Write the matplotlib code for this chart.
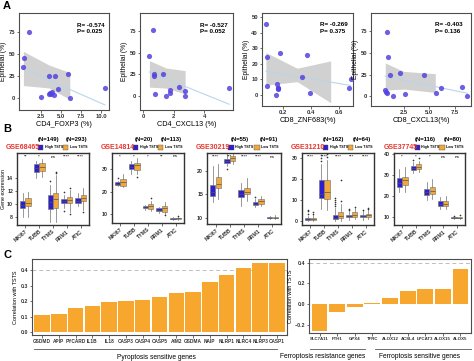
import numpy as np
import matplotlib
matplotlib.use("Agg")
import matplotlib.pyplot as plt
from matplotlib.patches import Rectangle
from matplotlib.transforms import blended_transform_factory

plt.rcParams["font.family"] = ["Liberation Sans", "DejaVu Sans"]
plt.rcParams["font.weight"] = "bold"
plt.rcParams["axes.linewidth"] = 0.8

# ---------------- data: panel A (epithelial % vs immune subset %) ----------------
foxp3_x = [1.0, 0.33, 0.29, 3.54, 4.25, 5.92, 4.63, 3.63, 3.54, 3.83, 3.71, 4.17, 2.46, 6.17, 10.5]
foxp3_y = [74.6, 44.9, 34.2, 25.1, 24.0, 26.3, 9.5, 5.7, 4.2, 6.5, 4.2, 2.7, 0.4, 0.0, 11.4]

cd4_cxcl13_x = [0.4, 0.66, 0.68, 0.73, 0.79, 1.32, 1.49, 1.78, 1.78, 2.35, 2.75, 2.75, 5.65]
cd4_cxcl13_y = [46.4, 76.0, 25.9, 23.2, 1.9, 25.9, 0.0, 7.0, 3.9, 10.8, 5.4, 0.0, 8.9]

znf683_x = [0.076, 0.083, 0.081, 0.179, 0.155, 0.16, 0.16, 0.164, 0.148, 0.369, 0.333, 0.395, 0.674, 0.683]
znf683_y = [45.3, 24.2, 6.0, 26.8, 7.3, 4.3, 3.6, 4.7, 0.0, 25.8, 11.8, 1.3, 4.3, 10.1]

cd8_cxcl13_x = [0.86, 0.92, 0.70, 0.76, 0.82, 1.18, 2.14, 1.5, 2.63, 4.54, 5.63, 6.18, 8.26, 8.75]
cd8_cxcl13_y = [74.6, 45.4, 7.3, 5.4, 4.2, 24.2, 26.5, 0.0, 2.7, 25.0, 3.8, 9.6, 10.8, 0.8]

a_xlabels = ["CD4_FOXP3 (%)", "CD4_CXCL13 (%)", "CD8_ZNF683(%)", "CD8_CXCL13(%)"]
a_r = ["-0.574", "-0.527", "-0.269", "-0.403"]
a_p = ["0.025", "0.052", "0.375", "0.136"]

# confidence band of the fit as drawn (x, lower, upper) at start / middle / end
foxp3_band = ([0.3, 3.5, 6.1], [13.7, 11.0, -1.9], [52.5, 37.0, 28.5])
cd4_cxcl13_band = ([0.4, 1.5, 2.75], [10.4, 9.3, 2.7], [41.0, 32.5, 29.5])
znf683_band = ([0.076, 0.3, 0.54], [6.4, 8.6, -4.9], [27.3, 17.2, 21.9])
cd8_cxcl13_band = ([0.7, 2.5, 5.6], [7.3, 8.5, 4.6], [38.5, 28.8, 26.2])

# ---------------- data: panel B (box stats: whislo, q1, median, q3, whishi) ----------------
b_genes = ["MKI67", "TUBB", "TYMS", "RRM1", "ATIC"]
b_sets = ["GSE68465", "GSE14814", "GSE30219", "GSE31210", "GSE37745"]
b_n_high = [149, 20, 55, 162, 116]
b_n_low = [293, 113, 91, 64, 80]

gse68465_high = [[7.9, 9.3, 9.85, 10.5, 11.7], [14.0, 14.9, 15.5, 16.2, 16.7], [7.1, 9.2, 10.3, 11.3, 13.0],
                 [9.3, 10.1, 10.4, 10.8, 11.4], [9.6, 10.1, 10.5, 10.9, 11.7]]
gse68465_low = [[8.0, 9.6, 10.2, 10.9, 11.9], [14.1, 15.1, 15.8, 16.3, 17.0], [7.2, 9.3, 10.7, 11.7, 14.5],
                [8.8, 10.1, 10.6, 11.1, 12.2], [9.1, 10.4, 10.9, 11.3, 12.4]]
gse68465_sig = ["**", "*", "ns", "****", "****"]

gse14814_high = [[22.5, 23.0, 23.6, 24.2, 25.0], [28.0, 30.0, 31.0, 32.6, 33.5], [12.0, 12.6, 13.0, 13.6, 14.0],
                 [10.5, 11.4, 12.0, 12.6, 13.2], [7.3, 7.6, 7.9, 8.2, 8.5]]
gse14814_low = [[22.0, 22.7, 24.3, 25.8, 28.0], [27.8, 29.5, 32.0, 33.0, 35.0], [11.5, 12.1, 13.4, 14.4, 16.0],
                [10.0, 10.9, 12.5, 13.6, 15.5], [7.5, 7.8, 8.1, 8.4, 8.8]]
gse14814_sig = ["*", "*", "*", "**", "ns"]

gse30219_high = [[13.3, 14.6, 15.5, 17.1, 21.0], [21.0, 21.6, 22.0, 22.5, 23.5], [12.5, 14.5, 15.0, 15.9, 17.5],
                 [12.3, 12.7, 13.0, 13.3, 14.0], [9.7, 9.9, 10.0, 10.2, 10.4]]
gse30219_low = [[14.0, 16.3, 17.3, 18.6, 21.5], [21.5, 22.2, 22.7, 23.2, 24.5], [13.5, 15.0, 15.6, 16.4, 18.5],
                [12.5, 12.9, 13.5, 14.0, 14.7], [9.7, 9.9, 10.0, 10.2, 10.6]]
gse30219_sig = ["****", "***", "****", "****", "ns"]

gse31210_high = [[0.0, 0.3, 0.7, 1.2, 2.5], [5.5, 11.0, 13.0, 19.4, 27.0], [0.0, 1.0, 1.5, 3.0, 6.0],
                 [0.5, 1.8, 2.3, 3.0, 4.5], [0.5, 1.8, 2.3, 3.0, 4.5]]
gse31210_low = [[0.0, 0.5, 1.0, 1.5, 3.0], [5.0, 10.5, 14.0, 19.5, 29.0], [0.0, 1.5, 2.5, 4.0, 8.0],
                [1.0, 2.0, 2.8, 4.0, 6.0], [1.0, 2.0, 2.6, 3.5, 5.0]]
gse31210_sig = ["****", "****", "****", "***", "****"]

gse37745_high = [[22.0, 24.6, 26.5, 28.7, 33.0], [31.0, 32.6, 33.5, 34.5, 36.5], [18.0, 20.8, 22.0, 23.4, 27.0],
                 [14.0, 15.3, 16.5, 17.8, 19.5], [9.0, 9.5, 9.7, 9.9, 10.3]]
gse37745_low = [[22.0, 25.3, 27.5, 29.2, 34.0], [31.5, 33.0, 34.0, 35.2, 37.0], [18.5, 21.1, 22.5, 24.2, 28.0],
                [14.0, 15.3, 16.5, 17.8, 20.0], [9.0, 9.5, 9.7, 9.9, 10.3]]
gse37745_sig = ["*", "*", "*", "ns", "ns"]

# outlier points per gene (high, low)
gse68465_fliers = [([], []), ([], []), ([13.6], [15.0, 14.8]), ([11.9, 8.9], [12.5, 8.4]), ([], [8.8])]
gse14814_fliers = [([26.0], []), ([], [26.5]), ([], [17.0]), ([], [9.5]), ([], [9.0])]
gse30219_fliers = [([], []), ([20.5], []), ([], []), ([14.5], [])]
gse31210_fliers = [([3.5, 4.5, 5.0], [3.5, 4.0]), ([28.5, 30, 31.5, 33], [30.5, 32]),
                   ([7, 8, 9, 10, 11], [9.5, 19.5]), ([5, 5.5], [6.5]), ([5], [5.5, 6])]
gse37745_fliers = [([], []), ([37.5], [38.0]), ([], []), ([], []), ([10.8], [11.0])]

b_ylims = [(6.7, 17.9), (6, 37.3), (8.7, 23.8), (-2, 32.5), (6.3, 40.6)]
b_yticks = [[8, 10, 12, 14], [10, 20, 30], [10, 15, 20], [0, 10, 20, 30], [10, 20, 30, 40]]

# ---------------- data: panel C (correlation with TSTS) ----------------
pyro_genes = ["GSDMD", "APIP", "PYCARD", "IL1B", "IL18", "CASP3", "CASP4", "CASP5", "AIM2", "GSDMA",
              "NAIP", "NLRP1", "NLRC4", "NLRP3", "CASP1"]
pyro_corr = [0.109, 0.114, 0.157, 0.166, 0.197, 0.201, 0.205, 0.227, 0.256, 0.258,
             0.323, 0.367, 0.413, 0.446, 0.446]
ferro_genes = ["SLC7A11", "FTH1", "GPX4", "TFRC", "ALOX12", "ACSL4", "LPCAT3", "ALOX15", "ALOX5"]
ferro_corr = [-0.265, -0.08, -0.032, 0.006, 0.058, 0.129, 0.142, 0.148, 0.339]

BLUE = "#2d1fcf"
ORANGE = "#f2a73b"
POINT = "#5443e0"
BAR = "#f7a62e"
FRAME = "#4d4d4d"

W, H = 474, 361
fig = plt.figure(figsize=(W / 100, H / 100), dpi=100)


def px_axes(x0, y0, x1, y1):
    return fig.add_axes([x0 / W, 1 - y1 / H, (x1 - x0) / W, (y1 - y0) / H])


def style(ax, size=4.2):
    for sp in ax.spines.values():
        sp.set_color(FRAME)
    ax.tick_params(labelsize=size, length=1.8, width=0.5, pad=1, colors="#333333")


# ---------------- panel A ----------------
a_rects = [(19, 13, 109, 110), (140, 13, 233, 110), (262, 13, 353, 106), (371, 13, 471, 106)]
a_data = [(foxp3_x, foxp3_y), (cd4_cxcl13_x, cd4_cxcl13_y), (znf683_x, znf683_y), (cd8_cxcl13_x, cd8_cxcl13_y)]
a_bands = [foxp3_band, cd4_cxcl13_band, znf683_band, cd8_cxcl13_band]
a_xlims = [(-0.25, 11.0), (-0.22, 5.9), (0.048, 0.70), (-0.7, 9.1)]
a_ylims = [(-14, 96), (-16, 96), (-7, 52.6), (-11, 96)]
a_xticks = [[2.5, 5.0, 7.5, 10.0], [0, 2, 4], [0.2, 0.4, 0.6], [2.5, 5.0, 7.5]]
a_yticks = [[0, 25, 50, 75], [0, 25, 50, 75], [0, 10, 20, 30, 40, 50], [0, 25, 50, 75]]

for i, rect in enumerate(a_rects):
    ax = px_axes(*rect)
    x = np.asarray(a_data[i][0])
    y = np.asarray(a_data[i][1])
    bx, blo, bhi = a_bands[i]
    ax.fill_between(bx, blo, bhi, color="#c9c9c9", alpha=0.85, lw=0, zorder=1)
    slope, icpt = np.polyfit(x, y, 1)
    xl = np.array([x.min(), x.max()])
    ax.plot(xl, slope * xl + icpt, color="#b9d6ea", lw=0.8, zorder=2)
    ax.scatter(x, y, s=14, color=POINT, alpha=0.85, lw=0, zorder=3)
    ax.set_xlim(*a_xlims[i])
    ax.set_ylim(*a_ylims[i])
    ax.set_xticks(a_xticks[i])
    ax.set_yticks(a_yticks[i])
    style(ax)
    ax.set_xlabel(a_xlabels[i], fontsize=5.2, labelpad=1.5)
    ax.set_ylabel("Epithelial (%)", fontsize=4.8, labelpad=1)
    ax.text(0.64, 0.9, f"R= {a_r[i]}\nP= {a_p[i]}", transform=ax.transAxes,
            fontsize=4.5, va="top", ha="left", linespacing=1.3)

fig.text(3 / W, 1 - 1 / H, "A", fontsize=8, fontweight="bold", va="top")
fig.text(3 / W, 1 - 124 / H, "B", fontsize=8, fontweight="bold", va="top")
fig.text(3 / W, 1 - 250 / H, "C", fontsize=8, fontweight="bold", va="top")

# ---------------- panel B ----------------
b_rects = [(17, 153, 89, 225), (112, 153, 184, 223), (207, 153, 281, 224), (302, 153, 374, 225), (394, 153, 465, 225)]
b_high = [gse68465_high, gse14814_high, gse30219_high, gse31210_high, gse37745_high]
b_low = [gse68465_low, gse14814_low, gse30219_low, gse31210_low, gse37745_low]
b_sig = [gse68465_sig, gse14814_sig, gse30219_sig, gse31210_sig, gse37745_sig]
b_fliers = [gse68465_fliers, gse14814_fliers, gse30219_fliers, gse31210_fliers, gse37745_fliers]

for i, rect in enumerate(b_rects):
    ax = px_axes(*rect)
    for grp, (data, col, off) in enumerate([(b_high[i], BLUE, -0.2), (b_low[i], ORANGE, 0.2)]):
        stats = []
        for g, v in enumerate(data):
            fl = b_fliers[i][g][grp] if g < len(b_fliers[i]) else []
            stats.append(dict(whislo=v[0], q1=v[1], med=v[2], q3=v[3], whishi=v[4], fliers=fl))
        ax.bxp(stats, positions=np.arange(len(data)) + off, widths=0.38, patch_artist=True,
               boxprops=dict(facecolor=col, edgecolor="#707070", lw=0.4),
               medianprops=dict(color="#555555", lw=0.5),
               whiskerprops=dict(color="#707070", lw=0.5),
               capprops=dict(lw=0),
               flierprops=dict(marker="o", markersize=1.2, markerfacecolor="#333333",
                               markeredgecolor="none"))
    for g, txt in enumerate(b_sig[i]):
        ax.text(g, 0.95, txt, transform=blended_transform_factory(ax.transData, ax.transAxes),
                fontsize=3.2, ha="center", va="center", color="#444444")
    ax.set_xlim(-0.6, 4.6)
    ax.set_ylim(*b_ylims[i])
    ax.set_yticks(b_yticks[i])
    ax.set_xticks(range(len(b_genes)))
    ax.set_xticklabels(b_genes, rotation=40, ha="right", rotation_mode="anchor")
    style(ax, size=3.8)
    for sp in ax.spines.values():
        sp.set_linewidth(1.0)
        sp.set_color("#333333")
    if i == 0:
        ax.set_ylabel("Gene expression", fontsize=3.8, labelpad=1)
    ax.text(-0.15, 1.08, b_sets[i], transform=ax.transAxes, color="#e8352c",
            fontsize=5, fontweight="bold", ha="left", va="center")
    for fx, col, lab in [(0.29, BLUE, "High TSTS"), (0.64, ORANGE, "Low TSTS")]:
        ax.add_patch(Rectangle((fx, 1.045), 0.075, 0.07, transform=ax.transAxes, facecolor=col,
                               edgecolor="#555555", lw=0.3, clip_on=False))
        ax.text(fx + 0.095, 1.08, lab, transform=ax.transAxes, fontsize=2.6, va="center", ha="left")
    ax.text(0.44, 1.19, f"(N={b_n_high[i]})", transform=ax.transAxes, fontsize=4.2, ha="center", va="center")
    ax.text(0.83, 1.19, f"(N={b_n_low[i]})", transform=ax.transAxes, fontsize=4.2, ha="center", va="center")

# ---------------- panel C ----------------
axc1 = px_axes(32, 259, 287, 335)
xp = np.arange(len(pyro_genes))
axc1.bar(xp, pyro_corr, width=0.92, color=BAR, zorder=2)
axc1.axhline(0.4, color="#bdbdbd", lw=0.7, ls=(0, (4, 3)), zorder=1)
axc1.set_xlim(-0.6, len(pyro_genes) - 0.4)
axc1.set_ylim(-0.02, 0.474)
axc1.set_yticks([0.0, 0.1, 0.2, 0.3, 0.4])
axc1.set_xticks(xp)
axc1.set_xticklabels(pyro_genes)
style(axc1, size=3.8)
axc1.tick_params(axis="x", labelsize=3.4)
axc1.set_ylabel("Correlation with TSTS", fontsize=4.0, labelpad=2)
tr1 = blended_transform_factory(axc1.transData, axc1.transAxes)
axc1.plot([-0.5, 14.0], [-0.19, -0.19], transform=tr1, color="#555555", lw=0.6, clip_on=False)
axc1.text(6.8, -0.3, "Pyroptosis sensitive genes", transform=tr1, fontsize=4.8,
          ha="center", va="center", fontweight="normal")

axc2 = px_axes(309, 259, 471, 333)
xf = np.arange(len(ferro_genes))
axc2.bar(xf, ferro_corr, width=0.9, color=BAR, zorder=2)
axc2.axhline(0.4, color="#bdbdbd", lw=0.7, ls=(0, (4, 3)), zorder=1)
axc2.set_xlim(-0.6, len(ferro_genes) - 0.4)
axc2.set_ylim(-0.28, 0.435)
axc2.set_yticks([-0.2, 0.0, 0.2, 0.4])
axc2.set_xticks(xf)
axc2.set_xticklabels(ferro_genes)
style(axc2, size=3.8)
axc2.tick_params(axis="x", labelsize=3.2)
axc2.set_ylabel("Correlation with TSTS", fontsize=4.0, labelpad=1)
tr2 = blended_transform_factory(axc2.transData, axc2.transAxes)
axc2.plot([-0.54, 2.58], [-0.22, -0.22], transform=tr2, color="#555555", lw=0.6, clip_on=False)
axc2.plot([3.15, 8.6], [-0.22, -0.22], transform=tr2, color="#555555", lw=0.6, clip_on=False)
axc2.text(0.2, -0.32, "Ferroptosis resistance genes", transform=tr2, fontsize=4.8,
          ha="center", va="center", fontweight="normal")
axc2.text(5.7, -0.32, "Ferroptosis sensitive genes", transform=tr2, fontsize=4.8,
          ha="center", va="center", fontweight="normal")

fig.savefig("out.png", dpi=100)
